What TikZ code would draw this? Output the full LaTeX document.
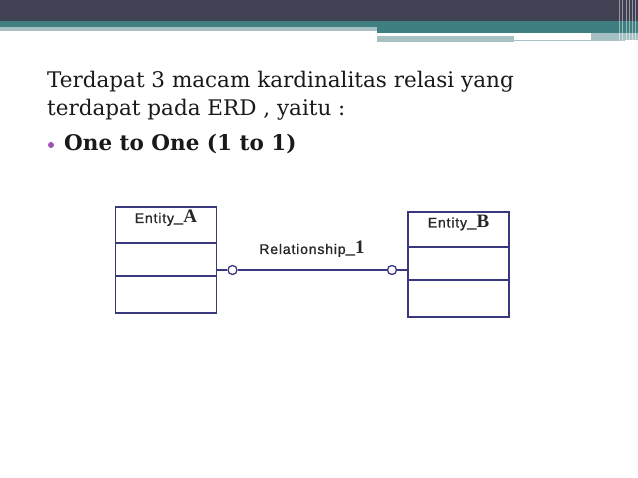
\documentclass[tikz,border=0pt]{standalone}
\usepackage{fontspec}
\setmainfont{DejaVu Serif}
\setsansfont{Liberation Sans}
\newfontfamily\erdfont{Liberation Sans}[LetterSpace=6, FakeBold=1.2]
\newfontfamily\erdserif{Liberation Serif}
\usetikzlibrary{positioning}
\definecolor{hdrdark}{HTML}{404254}
\definecolor{hdrteal}{HTML}{3F7E81}
\definecolor{hdrlight}{HTML}{A6C0C3}
\definecolor{erdline}{HTML}{38387E}
\definecolor{erdtext}{HTML}{262626}
\definecolor{bulletpurple}{HTML}{A052B4}
\tikzstyle{slidetext} = [anchor=base west,
			inner sep=0pt,
			text=black!90,
			font=\fontsize{21.5}{26}\selectfont]
\tikzstyle{slidebold} = [slidetext,
			font=\fontsize{21.5}{26}\selectfont\bfseries]
\tikzstyle{compart} = [rectangle,
			draw=erdline,
			line width=1.6pt,
			outer sep=0pt,
			inner sep=0pt,
			minimum width=101pt,
			text=erdtext,
			text centered]
\tikzstyle{headcomp} = [compart,
			text height=10pt,
			text depth=14pt,
			font=\erdfont\fontsize{14}{16}\selectfont]
\tikzstyle{optional} = [circle,
			draw=erdline,
			line width=1.3pt,
			fill=white,
			inner sep=0pt,
			minimum size=9pt]
\newcommand{\bigtag}[1]{{\erdserif\bfseries\fontsize{19}{19}\selectfont\_#1}}

\begin{document}
\begin{tikzpicture}[x=1pt, y=-1pt, node distance=0pt]
	\useasboundingbox (0,0) rectangle (638,478);
	% header bands
	\fill[hdrdark] (0,0) rectangle (638,21.5);
	\fill[hdrteal] (0,21.5) rectangle (638,27.5);
	\fill[hdrlight] (0,27.5) rectangle (377,31);
	\fill[hdrteal] (377,27.5) rectangle (638,33);
	\fill[hdrlight] (377,36.5) rectangle (514,42);
	\fill[hdrlight] (514,40) rectangle (625,41.5);
	\fill[hdrlight] (591,33) rectangle (638,40);
	\foreach \sx in {619,622.5,626,629,632.5,635.5}
		\draw[white, opacity=0.45, line width=0.8pt] (\sx,0) -- (\sx,43);

	% slide text
	\node[slidetext] (line1) at (47,88) {Terdapat 3 macam kardinalitas relasi yang};
	\node[slidetext] (line2) at (47,115.5) {terdapat pada ERD , yaitu :};
	\node[slidebold] (line3) at (64,151) {One to One (1 to 1)};
	\node[circle, fill=bulletpurple, inner sep=0pt, minimum size=6pt] (bullet) at (51,145) {};

	% entity A
	\node[headcomp, minimum height=36pt] (entAhead) at (166,225) {Entity\bigtag{A}};
	\node[compart, minimum height=33pt, below=of entAhead] (entAmid) {};
	\node[compart, minimum height=37pt, below=of entAmid] (entAbot) {};
	% entity B
	\node[headcomp, minimum height=35pt] (entBhead) at (458.5,229.5) {Entity\bigtag{B}};
	\node[compart, minimum height=33pt, below=of entBhead] (entBmid) {};
	\node[compart, minimum height=37pt, below=of entBmid] (entBbot) {};

	% relationship
	\path (entAmid.east) ++(0,10.5) coordinate (jA);
	\path (entBmid.west) ++(0,6.5) coordinate (jB);
	\node[optional, right=16pt of jA, anchor=center] (oA) {};
	\node[optional, left=16pt of jB, anchor=center] (oB) {};
	\draw[erdline, line width=1.3pt] (jA) -- (oA) -- (oB) -- (jB);
	\node[anchor=base, inner sep=0pt, text=erdtext, font=\erdfont\fontsize{14}{16}\selectfont]
		(rel) at (312,254) {Relationship\bigtag{1}};
\end{tikzpicture}
\end{document}
